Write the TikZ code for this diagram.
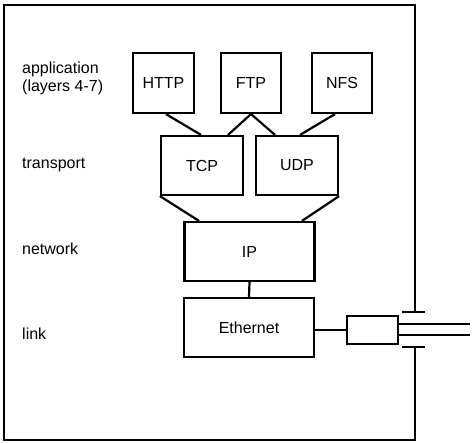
\documentclass[tikz,border=0pt]{standalone}
\usepackage{fontspec}
\setmainfont{Liberation Sans}
\begin{document}
\begin{tikzpicture}[x=1pt,y=-1pt,
  box/.style={draw,line width=2.2pt,inner sep=0pt,font=\fontsize{16}{18}\selectfont},
  lbl/.style={anchor=base west,inner sep=0pt,font=\fontsize{16}{18}\selectfont},
  wire/.style={line width=2.2pt}]
\useasboundingbox (0,0) rectangle (474,443);
% layer labels
\node[lbl] (lapp) at (22,74) {application};
\node[lbl] (llay) at (22,92) {(layers 4-7)};
\node[lbl] (ltra) at (22,169) {transport};
\node[lbl] (lnet) at (22,255) {network};
\node[lbl] (llnk) at (22,340) {link};
% boxes
\node[box,minimum width=61pt,minimum height=60pt] (http) at (163.5,83) {HTTP};
\node[box,minimum width=60pt,minimum height=60pt] (ftp) at (251,83) {FTP};
\node[box,minimum width=60pt,minimum height=60pt] (nfs) at (342,83) {NFS};
\node[box,minimum width=82pt,minimum height=59pt] (tcp) at (202,165.5) {TCP};
\node[box,minimum width=82pt,minimum height=59pt] (udp) at (297,165.5) {UDP};
\node[box,minimum width=130pt,minimum height=59pt] (ip) at (249.5,251.5) {IP};
\node[box,minimum width=130pt,minimum height=59pt] (eth) at (249,327.5) {Ethernet};
\node[box,minimum width=51pt,minimum height=28pt] (conn) at (372.5,330) {};
% connectors
\draw[wire] ([xshift=2.5pt]http.south) -- ([xshift=-1pt]tcp.north);
\draw[wire] (ftp.south) -- ([xshift=26pt]tcp.north);
\draw[wire] (ftp.south) -- ([xshift=-22pt]udp.north);
\draw[wire] ([xshift=-7pt]nfs.south) -- ([xshift=3pt]udp.north);
\draw[wire] (tcp.south west) -- ([xshift=-50.5pt]ip.north);
\draw[wire] (udp.south east) -- ([xshift=52.5pt]ip.north);
\draw[wire] (ip.south) -- (eth.north);
\draw[wire] (conn.west) -- (conn.west -| eth.east);
\coordinate (c1) at (470,324);
\coordinate (c2) at (470,335);
\draw[wire] (conn.east |- c1) -- (c1);
\draw[wire] (conn.east |- c2) -- (c2);
% frame with gap
\coordinate (gtop) at (415,312);
\coordinate (gbot) at (415,347);
\draw[wire] (gtop) -- (415,5) -- (4,5) -- (4,440) -- (415,440) -- (gbot);
\draw[wire] ([xshift=-13pt]gtop) -- ([xshift=10pt]gtop);
\draw[wire] ([xshift=-13pt]gbot) -- ([xshift=10pt]gbot);
\end{tikzpicture}
\end{document}
